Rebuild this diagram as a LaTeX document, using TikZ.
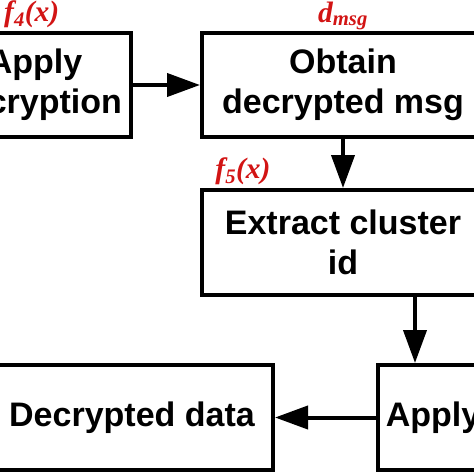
\documentclass[tikz,border=0pt]{standalone}
\usepackage{fontspec}
\setmainfont{Liberation Sans}
\newfontfamily\lblfont{Liberation Serif}
\usepackage{tikz}
\usetikzlibrary{arrows.meta}
\definecolor{lblred}{RGB}{210,20,20}
\tikzset{
	boxstyle/.style={rectangle,draw=black,line width=4pt,fill=white,inner sep=0pt,align=center,font=\bfseries\fontsize{34}{40}\selectfont},
	arrowstyle/.style={line width=4pt,-{Triangle[length=33pt,width=23pt]}},
	labelstyle/.style={text=lblred,inner sep=0pt,font=\lblfont\bfseries\itshape\fontsize{29.5}{32}\selectfont}
}

\begin{document}
\begin{tikzpicture}[x=1pt,y=-1pt]
	\useasboundingbox (0,0) rectangle (474,474);
	\clip (0,0) rectangle (474,474);
	\node[boxstyle,minimum width=192,minimum height=104] (applyd) at (35,85) {Apply\\decryption};
	\node[boxstyle,minimum width=282,minimum height=104] (obtain) at (343,85) {Obtain\\decrypted msg};
	\node[boxstyle,minimum width=282,minimum height=105] (extract) at (343,242.5) {Extract cluster\\id};
	\node[boxstyle,minimum width=282,minimum height=105] (decdata) at (132,417.5) {Decrypted data};
	\node[boxstyle,minimum width=110,minimum height=105] (applyb) at (433,417.5) {Apply};
	\node[labelstyle,anchor=west] (f4) at (4,14) {f\textsubscript{4}(x)};
	\node[labelstyle] (dmsg) at (343,16) {d\textsubscript{msg}};
	\node[labelstyle] (f5) at (243,171) {f\textsubscript{5}(x)};
	\draw[arrowstyle] (applyd) -- (obtain);
	\draw[arrowstyle] (obtain) -- (extract);
	\draw[arrowstyle] ([xshift=72pt]extract.south) -- ([xshift=72pt]extract.south |- applyb.north);
	\draw[arrowstyle] (applyb) -- (decdata);
\end{tikzpicture}
\end{document}
